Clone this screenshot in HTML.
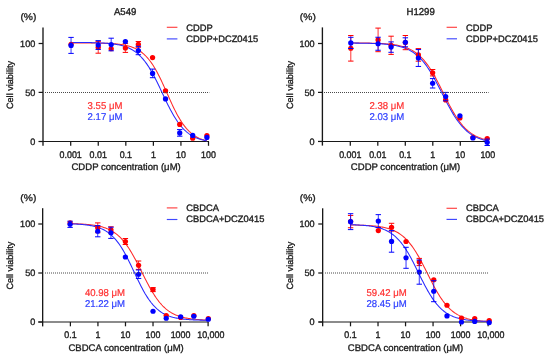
<!DOCTYPE html>
<html><head><meta charset="utf-8"><title>Cell viability</title><style>
html,body{margin:0;padding:0;background:#fff;}
body{width:550px;height:358px;overflow:hidden;font-family:"Liberation Sans", sans-serif;}
svg{display:block;filter:blur(0.3px);}
</style></head><body><svg width="550" height="358" viewBox="0 0 550 358" font-family='"Liberation Sans", sans-serif'><text transform="translate(125.10,15.00) skewX(0.1) scale(1,1.04)" font-size="9.6" text-anchor="middle" fill="#1e1e1e" stroke="#1e1e1e" stroke-width="0.35">A549</text><text transform="translate(20.40,19.60) skewX(0.1) scale(1,0.93)" font-size="10.3" fill="#1e1e1e" stroke="#1e1e1e" stroke-width="0.35">(%)</text><text transform="translate(13.4,85.0) rotate(-90) skewX(0.1)" font-size="9.1" text-anchor="middle" fill="#1e1e1e" stroke="#1e1e1e" stroke-width="0.35">Cell viability</text><path d="M43.0,27.5 V145.7" stroke="#181818" stroke-width="1.35" fill="none"/><path d="M38.8,141.5 H209.0" stroke="#181818" stroke-width="1.05" fill="none"/><path d="M38.6,43.5 H43.0" stroke="#181818" stroke-width="1.25"/><text transform="translate(35.30,46.90) skewX(0.1) scale(1,1.02)" font-size="9.1" text-anchor="end" fill="#1e1e1e" stroke="#1e1e1e" stroke-width="0.35">100</text><path d="M38.6,92.4 H43.0" stroke="#181818" stroke-width="1.25"/><text transform="translate(35.30,95.80) skewX(0.1) scale(1,1.02)" font-size="9.1" text-anchor="end" fill="#1e1e1e" stroke="#1e1e1e" stroke-width="0.35">50</text><path d="M38.6,141.5 H43.0" stroke="#181818" stroke-width="1.25"/><text transform="translate(35.30,144.90) skewX(0.1) scale(1,1.02)" font-size="9.1" text-anchor="end" fill="#1e1e1e" stroke="#1e1e1e" stroke-width="0.35">0</text><path d="M70.70,141.5 V145.8" stroke="#181818" stroke-width="1.25"/><text transform="translate(70.70,158.00) skewX(0.1) scale(1,1.08)" font-size="8.9" text-anchor="middle" fill="#1e1e1e" stroke="#1e1e1e" stroke-width="0.35">0.001</text><path d="M98.26,141.5 V145.8" stroke="#181818" stroke-width="1.25"/><text transform="translate(98.26,158.00) skewX(0.1) scale(1,1.08)" font-size="8.9" text-anchor="middle" fill="#1e1e1e" stroke="#1e1e1e" stroke-width="0.35">0.01</text><path d="M125.82,141.5 V145.8" stroke="#181818" stroke-width="1.25"/><text transform="translate(125.82,158.00) skewX(0.1) scale(1,1.08)" font-size="8.9" text-anchor="middle" fill="#1e1e1e" stroke="#1e1e1e" stroke-width="0.35">0.1</text><path d="M153.38,141.5 V145.8" stroke="#181818" stroke-width="1.25"/><text transform="translate(153.38,158.00) skewX(0.1) scale(1,1.08)" font-size="8.9" text-anchor="middle" fill="#1e1e1e" stroke="#1e1e1e" stroke-width="0.35">1</text><path d="M180.94,141.5 V145.8" stroke="#181818" stroke-width="1.25"/><text transform="translate(180.94,158.00) skewX(0.1) scale(1,1.08)" font-size="8.9" text-anchor="middle" fill="#1e1e1e" stroke="#1e1e1e" stroke-width="0.35">10</text><path d="M208.50,141.5 V145.8" stroke="#181818" stroke-width="1.25"/><text transform="translate(208.50,158.00) skewX(0.1) scale(1,1.08)" font-size="8.9" text-anchor="middle" fill="#1e1e1e" stroke="#1e1e1e" stroke-width="0.35">100</text><text transform="translate(126.10,170.00) skewX(0.1)" font-size="9.55" text-anchor="middle" fill="#1e1e1e" stroke="#1e1e1e" stroke-width="0.35">CDDP concentration (μM)</text><path d="M166.8,27.3 H177.4" stroke="#ff4040" stroke-width="1.15"/><path d="M166.8,38.9 H177.4" stroke="#4048ff" stroke-width="1.15"/><text transform="translate(186.20,31.00) skewX(0.1)" font-size="9.35" fill="#1e1e1e" stroke="#1e1e1e" stroke-width="0.35">CDDP</text><text transform="translate(186.20,42.00) skewX(0.1)" font-size="9.35" fill="#1e1e1e" stroke="#1e1e1e" stroke-width="0.35">CDDP+DCZ0415</text><text transform="translate(87.60,109.00) skewX(0.1) scale(1,1.03)" font-size="9.6" fill="#ff3030" stroke="#ff3030" stroke-width="0.2">3.55 μM</text><text transform="translate(87.60,120.00) skewX(0.1) scale(1,1.03)" font-size="9.6" fill="#3040ff" stroke="#3040ff" stroke-width="0.2">2.17 μM</text><polyline points="71.05,42.89 72.02,42.89 72.99,42.89 73.96,42.90 74.93,42.90 75.90,42.90 76.87,42.90 77.84,42.91 78.81,42.91 79.78,42.91 80.75,42.92 81.72,42.92 82.69,42.93 83.66,42.93 84.63,42.94 85.61,42.94 86.58,42.95 87.55,42.96 88.52,42.96 89.49,42.97 90.46,42.98 91.43,42.99 92.40,43.00 93.37,43.01 94.34,43.03 95.31,43.04 96.28,43.05 97.25,43.07 98.22,43.09 99.19,43.11 100.16,43.13 101.13,43.15 102.10,43.18 103.07,43.21 104.04,43.24 105.01,43.27 105.98,43.30 106.95,43.34 107.92,43.39 108.89,43.43 109.86,43.48 110.83,43.54 111.81,43.60 112.78,43.66 113.75,43.73 114.72,43.81 115.69,43.89 116.66,43.99 117.63,44.08 118.60,44.19 119.57,44.31 120.54,44.44 121.51,44.58 122.48,44.73 123.45,44.89 124.42,45.07 125.39,45.27 126.36,45.48 127.33,45.71 128.30,45.95 129.27,46.22 130.24,46.52 131.21,46.83 132.18,47.17 133.15,47.55 134.12,47.95 135.09,48.38 136.06,48.85 137.03,49.35 138.00,49.90 138.98,50.48 139.95,51.12 140.92,51.80 141.89,52.52 142.86,53.31 143.83,54.14 144.80,55.04 145.77,56.00 146.74,57.02 147.71,58.10 148.68,59.25 149.65,60.47 150.62,61.77 151.59,63.13 152.56,64.57 153.53,66.08 154.50,67.66 155.47,69.31 156.44,71.03 157.41,72.82 158.38,74.67 159.35,76.59 160.32,78.55 161.29,80.57 162.26,82.63 163.23,84.73 164.20,86.87 165.17,89.02 166.14,91.19 167.12,93.37 168.09,95.55 169.06,97.72 170.03,99.87 171.00,102.00 171.97,104.10 172.94,106.16 173.91,108.17 174.88,110.13 175.85,112.04 176.82,113.89 177.79,115.67 178.76,117.38 179.73,119.03 180.70,120.60 181.67,122.11 182.64,123.54 183.61,124.89 184.58,126.18 185.55,127.39 186.52,128.54 187.49,129.62 188.46,130.63 189.43,131.58 190.40,132.47 191.37,133.30 192.34,134.08 193.31,134.80 194.29,135.48 195.26,136.11 196.23,136.69 197.20,137.23 198.17,137.73 199.14,138.20 200.11,138.63 201.08,139.02 202.05,139.39 203.02,139.73 203.99,140.05 204.96,140.34 205.93,140.60 206.90,140.85" stroke="#ff2828" stroke-width="1.05" fill="none"/><polyline points="71.05,42.41 72.02,42.42 72.99,42.42 73.96,42.43 74.93,42.43 75.90,42.44 76.87,42.44 77.84,42.45 78.81,42.46 79.78,42.46 80.75,42.47 81.72,42.48 82.69,42.49 83.66,42.50 84.63,42.51 85.61,42.52 86.58,42.54 87.55,42.55 88.52,42.57 89.49,42.58 90.46,42.60 91.43,42.62 92.40,42.65 93.37,42.67 94.34,42.69 95.31,42.72 96.28,42.75 97.25,42.79 98.22,42.82 99.19,42.86 100.16,42.90 101.13,42.95 102.10,43.00 103.07,43.05 104.04,43.11 105.01,43.17 105.98,43.24 106.95,43.31 107.92,43.39 108.89,43.48 109.86,43.57 110.83,43.67 111.81,43.78 112.78,43.90 113.75,44.03 114.72,44.17 115.69,44.32 116.66,44.48 117.63,44.66 118.60,44.85 119.57,45.06 120.54,45.28 121.51,45.52 122.48,45.78 123.45,46.06 124.42,46.36 125.39,46.69 126.36,47.04 127.33,47.42 128.30,47.83 129.27,48.27 130.24,48.74 131.21,49.25 132.18,49.79 133.15,50.38 134.12,51.00 135.09,51.67 136.06,52.39 137.03,53.15 138.00,53.97 138.98,54.84 139.95,55.76 140.92,56.74 141.89,57.78 142.86,58.88 143.83,60.05 144.80,61.28 145.77,62.57 146.74,63.92 147.71,65.35 148.68,66.83 149.65,68.38 150.62,70.00 151.59,71.67 152.56,73.41 153.53,75.19 154.50,77.04 155.47,78.92 156.44,80.85 157.41,82.82 158.38,84.83 159.35,86.85 160.32,88.90 161.29,90.96 162.26,93.03 163.23,95.09 164.20,97.15 165.17,99.19 166.14,101.21 167.12,103.21 168.09,105.17 169.06,107.09 170.03,108.97 171.00,110.80 171.97,112.57 172.94,114.29 173.91,115.95 174.88,117.55 175.85,119.09 176.82,120.56 177.79,121.97 178.76,123.31 179.73,124.59 180.70,125.80 181.67,126.95 182.64,128.03 183.61,129.06 184.58,130.03 185.55,130.94 186.52,131.80 187.49,132.60 188.46,133.35 189.43,134.06 190.40,134.72 191.37,135.33 192.34,135.91 193.31,136.44 194.29,136.94 195.26,137.41 196.23,137.84 197.20,138.24 198.17,138.61 199.14,138.96 200.11,139.28 201.08,139.58 202.05,139.85 203.02,140.11 203.99,140.35 204.96,140.57 205.93,140.77 206.90,140.96" stroke="#2828ff" stroke-width="1.05" fill="none"/><ellipse cx="71.05" cy="44.20" rx="2.65" ry="2.55" fill="#ff0000"/><path d="M98.22,41.60 V53.20" stroke="#ff0000" stroke-width="0.8" fill="none"/><path d="M95.52,41.60 H100.92 M95.52,53.20 H100.92" stroke="#ff0000" stroke-width="1.0" fill="none"/><ellipse cx="98.22" cy="47.40" rx="2.65" ry="2.55" fill="#ff0000"/><ellipse cx="111.18" cy="48.80" rx="2.65" ry="2.55" fill="#ff0000"/><path d="M125.39,43.60 V52.40" stroke="#ff0000" stroke-width="0.8" fill="none"/><path d="M122.69,43.60 H128.09 M122.69,52.40 H128.09" stroke="#ff0000" stroke-width="1.0" fill="none"/><ellipse cx="125.39" cy="48.00" rx="2.65" ry="2.55" fill="#ff0000"/><path d="M138.35,41.50 V47.30" stroke="#ff0000" stroke-width="0.8" fill="none"/><path d="M135.65,41.50 H141.05 M135.65,47.30 H141.05" stroke="#ff0000" stroke-width="1.0" fill="none"/><ellipse cx="138.35" cy="44.40" rx="2.65" ry="2.55" fill="#ff0000"/><ellipse cx="152.56" cy="57.60" rx="2.65" ry="2.55" fill="#ff0000"/><ellipse cx="165.52" cy="90.80" rx="2.65" ry="2.55" fill="#ff0000"/><ellipse cx="179.73" cy="124.40" rx="2.65" ry="2.55" fill="#ff0000"/><ellipse cx="192.69" cy="138.20" rx="2.65" ry="2.55" fill="#ff0000"/><ellipse cx="206.90" cy="135.50" rx="2.65" ry="2.55" fill="#ff0000"/><path d="M71.05,37.40 V53.40" stroke="#0000ff" stroke-width="0.8" fill="none"/><path d="M68.35,37.40 H73.75 M68.35,53.40 H73.75" stroke="#0000ff" stroke-width="1.0" fill="none"/><ellipse cx="71.05" cy="45.40" rx="2.65" ry="2.55" fill="#0000ff"/><path d="M98.22,40.60 V49.40" stroke="#0000ff" stroke-width="0.8" fill="none"/><path d="M95.52,40.60 H100.92 M95.52,49.40 H100.92" stroke="#0000ff" stroke-width="1.0" fill="none"/><ellipse cx="98.22" cy="45.00" rx="2.65" ry="2.55" fill="#0000ff"/><path d="M111.18,38.20 V50.80" stroke="#0000ff" stroke-width="0.8" fill="none"/><path d="M108.48,38.20 H113.88 M108.48,50.80 H113.88" stroke="#0000ff" stroke-width="1.0" fill="none"/><ellipse cx="111.18" cy="44.50" rx="2.65" ry="2.55" fill="#0000ff"/><ellipse cx="125.39" cy="41.50" rx="2.65" ry="2.55" fill="#0000ff"/><path d="M138.35,46.30 V54.70" stroke="#0000ff" stroke-width="0.8" fill="none"/><path d="M135.65,46.30 H141.05 M135.65,54.70 H141.05" stroke="#0000ff" stroke-width="1.0" fill="none"/><ellipse cx="138.35" cy="50.50" rx="2.65" ry="2.55" fill="#0000ff"/><path d="M152.56,69.10 V77.70" stroke="#0000ff" stroke-width="0.8" fill="none"/><path d="M149.86,69.10 H155.26 M149.86,77.70 H155.26" stroke="#0000ff" stroke-width="1.0" fill="none"/><ellipse cx="152.56" cy="73.40" rx="2.65" ry="2.55" fill="#0000ff"/><ellipse cx="165.52" cy="98.90" rx="2.65" ry="2.55" fill="#0000ff"/><path d="M179.73,129.60 V136.20" stroke="#0000ff" stroke-width="0.8" fill="none"/><path d="M177.03,129.60 H182.43 M177.03,136.20 H182.43" stroke="#0000ff" stroke-width="1.0" fill="none"/><ellipse cx="179.73" cy="132.90" rx="2.65" ry="2.55" fill="#0000ff"/><ellipse cx="192.69" cy="135.40" rx="2.65" ry="2.55" fill="#0000ff"/><ellipse cx="206.90" cy="137.40" rx="2.65" ry="2.55" fill="#0000ff"/><path d="M45,92.5 H209.3" stroke="#4a4a4a" stroke-width="1" stroke-dasharray="1,1" fill="none"/><text transform="translate(420.60,15.00) skewX(0.1) scale(1,1.04)" font-size="9.6" text-anchor="middle" fill="#1e1e1e" stroke="#1e1e1e" stroke-width="0.35">H1299</text><text transform="translate(299.80,19.60) skewX(0.1) scale(1,0.93)" font-size="10.3" fill="#1e1e1e" stroke="#1e1e1e" stroke-width="0.35">(%)</text><text transform="translate(292.8,85.0) rotate(-90) skewX(0.1)" font-size="9.1" text-anchor="middle" fill="#1e1e1e" stroke="#1e1e1e" stroke-width="0.35">Cell viability</text><path d="M322.4,27.4 V145.6" stroke="#181818" stroke-width="1.35" fill="none"/><path d="M318.1,141.45 H488.3" stroke="#181818" stroke-width="1.05" fill="none"/><path d="M318.0,43.5 H322.4" stroke="#181818" stroke-width="1.25"/><text transform="translate(314.60,46.90) skewX(0.1) scale(1,1.02)" font-size="9.1" text-anchor="end" fill="#1e1e1e" stroke="#1e1e1e" stroke-width="0.35">100</text><path d="M318.0,92.4 H322.4" stroke="#181818" stroke-width="1.25"/><text transform="translate(314.60,95.80) skewX(0.1) scale(1,1.02)" font-size="9.1" text-anchor="end" fill="#1e1e1e" stroke="#1e1e1e" stroke-width="0.35">50</text><path d="M318.0,141.45 H322.4" stroke="#181818" stroke-width="1.25"/><text transform="translate(314.60,144.85) skewX(0.1) scale(1,1.02)" font-size="9.1" text-anchor="end" fill="#1e1e1e" stroke="#1e1e1e" stroke-width="0.35">0</text><path d="M350.30,141.45 V145.75" stroke="#181818" stroke-width="1.25"/><text transform="translate(350.30,158.00) skewX(0.1) scale(1,1.08)" font-size="8.9" text-anchor="middle" fill="#1e1e1e" stroke="#1e1e1e" stroke-width="0.35">0.001</text><path d="M377.80,141.45 V145.75" stroke="#181818" stroke-width="1.25"/><text transform="translate(377.80,158.00) skewX(0.1) scale(1,1.08)" font-size="8.9" text-anchor="middle" fill="#1e1e1e" stroke="#1e1e1e" stroke-width="0.35">0.01</text><path d="M405.30,141.45 V145.75" stroke="#181818" stroke-width="1.25"/><text transform="translate(405.30,158.00) skewX(0.1) scale(1,1.08)" font-size="8.9" text-anchor="middle" fill="#1e1e1e" stroke="#1e1e1e" stroke-width="0.35">0.1</text><path d="M432.80,141.45 V145.75" stroke="#181818" stroke-width="1.25"/><text transform="translate(432.80,158.00) skewX(0.1) scale(1,1.08)" font-size="8.9" text-anchor="middle" fill="#1e1e1e" stroke="#1e1e1e" stroke-width="0.35">1</text><path d="M460.30,141.45 V145.75" stroke="#181818" stroke-width="1.25"/><text transform="translate(460.30,158.00) skewX(0.1) scale(1,1.08)" font-size="8.9" text-anchor="middle" fill="#1e1e1e" stroke="#1e1e1e" stroke-width="0.35">10</text><path d="M487.80,141.45 V145.75" stroke="#181818" stroke-width="1.25"/><text transform="translate(487.80,158.00) skewX(0.1) scale(1,1.08)" font-size="8.9" text-anchor="middle" fill="#1e1e1e" stroke="#1e1e1e" stroke-width="0.35">100</text><text transform="translate(405.50,170.00) skewX(0.1)" font-size="9.55" text-anchor="middle" fill="#1e1e1e" stroke="#1e1e1e" stroke-width="0.35">CDDP concentration (μM)</text><path d="M446.6,27.3 H457.0" stroke="#ff4040" stroke-width="1.15"/><path d="M446.6,38.8 H457.0" stroke="#4048ff" stroke-width="1.15"/><text transform="translate(466.00,31.00) skewX(0.1)" font-size="9.35" fill="#1e1e1e" stroke="#1e1e1e" stroke-width="0.35">CDDP</text><text transform="translate(466.00,42.00) skewX(0.1)" font-size="9.35" fill="#1e1e1e" stroke="#1e1e1e" stroke-width="0.35">CDDP+DCZ0415</text><text transform="translate(369.50,109.00) skewX(0.1) scale(1,1.03)" font-size="9.6" fill="#ff3030" stroke="#ff3030" stroke-width="0.2">2.38 μM</text><text transform="translate(369.50,120.00) skewX(0.1) scale(1,1.03)" font-size="9.6" fill="#3040ff" stroke="#3040ff" stroke-width="0.2">2.03 μM</text><polyline points="350.80,42.93 351.77,42.93 352.75,42.94 353.72,42.94 354.70,42.95 355.67,42.96 356.65,42.96 357.62,42.97 358.59,42.98 359.57,42.99 360.54,43.00 361.52,43.01 362.49,43.02 363.47,43.03 364.44,43.04 365.41,43.06 366.39,43.07 367.36,43.09 368.34,43.11 369.31,43.13 370.29,43.15 371.26,43.17 372.23,43.20 373.21,43.22 374.18,43.25 375.16,43.28 376.13,43.31 377.11,43.35 378.08,43.39 379.05,43.43 380.03,43.48 381.00,43.53 381.98,43.58 382.95,43.64 383.93,43.70 384.90,43.77 385.87,43.84 386.85,43.92 387.82,44.00 388.80,44.09 389.77,44.19 390.75,44.30 391.72,44.41 392.69,44.54 393.67,44.67 394.64,44.81 395.62,44.97 396.59,45.14 397.57,45.32 398.54,45.51 399.51,45.72 400.49,45.95 401.46,46.19 402.44,46.45 403.41,46.74 404.39,47.04 405.36,47.37 406.33,47.71 407.31,48.09 408.28,48.49 409.26,48.92 410.23,49.39 411.21,49.88 412.18,50.41 413.15,50.98 414.13,51.59 415.10,52.23 416.08,52.92 417.05,53.65 418.03,54.43 419.00,55.26 419.97,56.14 420.95,57.07 421.92,58.05 422.90,59.09 423.87,60.19 424.85,61.35 425.82,62.56 426.79,63.83 427.77,65.16 428.74,66.55 429.72,68.00 430.69,69.51 431.67,71.07 432.64,72.69 433.61,74.36 434.59,76.08 435.56,77.85 436.54,79.65 437.51,81.50 438.49,83.38 439.46,85.28 440.43,87.21 441.41,89.16 442.38,91.11 443.36,93.08 444.33,95.04 445.31,96.99 446.28,98.93 447.25,100.86 448.23,102.76 449.20,104.63 450.18,106.46 451.15,108.26 452.13,110.01 453.10,111.72 454.07,113.37 455.05,114.98 456.02,116.52 457.00,118.02 457.97,119.45 458.95,120.82 459.92,122.14 460.89,123.40 461.87,124.59 462.84,125.73 463.82,126.81 464.79,127.84 465.77,128.81 466.74,129.72 467.71,130.59 468.69,131.40 469.66,132.17 470.64,132.89 471.61,133.57 472.59,134.20 473.56,134.80 474.53,135.35 475.51,135.88 476.48,136.36 477.46,136.82 478.43,137.24 479.41,137.63 480.38,138.00 481.35,138.35 482.33,138.67 483.30,138.96 484.28,139.24 485.25,139.49 486.23,139.73 487.20,139.95" stroke="#ff2828" stroke-width="1.05" fill="none"/><polyline points="350.80,43.07 351.77,43.08 352.75,43.09 353.72,43.09 354.70,43.10 355.67,43.11 356.65,43.12 357.62,43.13 358.59,43.14 359.57,43.15 360.54,43.16 361.52,43.18 362.49,43.19 363.47,43.21 364.44,43.22 365.41,43.24 366.39,43.26 367.36,43.28 368.34,43.30 369.31,43.33 370.29,43.35 371.26,43.38 372.23,43.41 373.21,43.44 374.18,43.48 375.16,43.52 376.13,43.56 377.11,43.60 378.08,43.65 379.05,43.70 380.03,43.76 381.00,43.82 381.98,43.88 382.95,43.95 383.93,44.03 384.90,44.11 385.87,44.20 386.85,44.29 387.82,44.39 388.80,44.50 389.77,44.62 390.75,44.75 391.72,44.89 392.69,45.03 393.67,45.19 394.64,45.36 395.62,45.54 396.59,45.74 397.57,45.95 398.54,46.18 399.51,46.43 400.49,46.69 401.46,46.97 402.44,47.27 403.41,47.60 404.39,47.95 405.36,48.32 406.33,48.72 407.31,49.15 408.28,49.60 409.26,50.09 410.23,50.62 411.21,51.17 412.18,51.77 413.15,52.40 414.13,53.07 415.10,53.79 416.08,54.55 417.05,55.35 418.03,56.21 419.00,57.11 419.97,58.07 420.95,59.07 421.92,60.14 422.90,61.25 423.87,62.43 424.85,63.65 425.82,64.94 426.79,66.28 427.77,67.68 428.74,69.13 429.72,70.64 430.69,72.20 431.67,73.82 432.64,75.48 433.61,77.18 434.59,78.93 435.56,80.72 436.54,82.54 437.51,84.40 438.49,86.27 439.46,88.17 440.43,90.09 441.41,92.01 442.38,93.94 443.36,95.86 444.33,97.78 445.31,99.68 446.28,101.57 447.25,103.43 448.23,105.27 449.20,107.07 450.18,108.83 451.15,110.55 452.13,112.23 453.10,113.86 454.07,115.45 455.05,116.97 456.02,118.45 457.00,119.87 457.97,121.23 458.95,122.54 459.92,123.79 460.89,124.98 461.87,126.12 462.84,127.20 463.82,128.23 464.79,129.20 465.77,130.13 466.74,131.00 467.71,131.82 468.69,132.60 469.66,133.33 470.64,134.02 471.61,134.67 472.59,135.28 473.56,135.85 474.53,136.38 475.51,136.88 476.48,137.35 477.46,137.79 478.43,138.20 479.41,138.58 480.38,138.94 481.35,139.28 482.33,139.59 483.30,139.88 484.28,140.15 485.25,140.40 486.23,140.63 487.20,140.85" stroke="#2828ff" stroke-width="1.05" fill="none"/><path d="M350.80,35.50 V61.10" stroke="#ff0000" stroke-width="0.8" fill="none"/><path d="M348.10,35.50 H353.50 M348.10,61.10 H353.50" stroke="#ff0000" stroke-width="1.0" fill="none"/><ellipse cx="350.80" cy="48.30" rx="2.65" ry="2.55" fill="#ff0000"/><path d="M378.08,28.10 V51.70" stroke="#ff0000" stroke-width="0.8" fill="none"/><path d="M375.38,28.10 H380.78 M375.38,51.70 H380.78" stroke="#ff0000" stroke-width="1.0" fill="none"/><ellipse cx="378.08" cy="39.90" rx="2.65" ry="2.55" fill="#ff0000"/><path d="M391.10,36.20 V54.40" stroke="#ff0000" stroke-width="0.8" fill="none"/><path d="M388.40,36.20 H393.80 M388.40,54.40 H393.80" stroke="#ff0000" stroke-width="1.0" fill="none"/><ellipse cx="391.10" cy="45.30" rx="2.65" ry="2.55" fill="#ff0000"/><path d="M405.36,35.50 V49.70" stroke="#ff0000" stroke-width="0.8" fill="none"/><path d="M402.66,35.50 H408.06 M402.66,49.70 H408.06" stroke="#ff0000" stroke-width="1.0" fill="none"/><ellipse cx="405.36" cy="42.60" rx="2.65" ry="2.55" fill="#ff0000"/><path d="M418.38,48.60 V61.20" stroke="#ff0000" stroke-width="0.8" fill="none"/><path d="M415.68,48.60 H421.08 M415.68,61.20 H421.08" stroke="#ff0000" stroke-width="1.0" fill="none"/><ellipse cx="418.38" cy="54.90" rx="2.65" ry="2.55" fill="#ff0000"/><path d="M432.64,69.50 V75.90" stroke="#ff0000" stroke-width="0.8" fill="none"/><path d="M429.94,69.50 H435.34 M429.94,75.90 H435.34" stroke="#ff0000" stroke-width="1.0" fill="none"/><ellipse cx="432.64" cy="72.70" rx="2.65" ry="2.55" fill="#ff0000"/><ellipse cx="445.66" cy="99.90" rx="2.65" ry="2.55" fill="#ff0000"/><ellipse cx="459.92" cy="118.00" rx="2.65" ry="2.55" fill="#ff0000"/><ellipse cx="472.94" cy="137.50" rx="2.65" ry="2.55" fill="#ff0000"/><ellipse cx="487.20" cy="138.50" rx="2.65" ry="2.55" fill="#ff0000"/><path d="M350.80,37.30 V48.50" stroke="#0000ff" stroke-width="0.8" fill="none"/><path d="M348.10,37.30 H353.50 M348.10,48.50 H353.50" stroke="#0000ff" stroke-width="1.0" fill="none"/><ellipse cx="350.80" cy="42.90" rx="2.65" ry="2.55" fill="#0000ff"/><path d="M378.08,37.25 V50.25" stroke="#0000ff" stroke-width="0.8" fill="none"/><path d="M375.38,37.25 H380.78 M375.38,50.25 H380.78" stroke="#0000ff" stroke-width="1.0" fill="none"/><ellipse cx="378.08" cy="43.75" rx="2.65" ry="2.55" fill="#0000ff"/><path d="M391.10,41.90 V52.30" stroke="#0000ff" stroke-width="0.8" fill="none"/><path d="M388.40,41.90 H393.80 M388.40,52.30 H393.80" stroke="#0000ff" stroke-width="1.0" fill="none"/><ellipse cx="391.10" cy="47.10" rx="2.65" ry="2.55" fill="#0000ff"/><path d="M405.36,37.80 V46.80" stroke="#0000ff" stroke-width="0.8" fill="none"/><path d="M402.66,37.80 H408.06 M402.66,46.80 H408.06" stroke="#0000ff" stroke-width="1.0" fill="none"/><ellipse cx="405.36" cy="42.30" rx="2.65" ry="2.55" fill="#0000ff"/><path d="M418.38,49.55 V66.45" stroke="#0000ff" stroke-width="0.8" fill="none"/><path d="M415.68,49.55 H421.08 M415.68,66.45 H421.08" stroke="#0000ff" stroke-width="1.0" fill="none"/><ellipse cx="418.38" cy="58.00" rx="2.65" ry="2.55" fill="#0000ff"/><path d="M432.64,78.60 V88.00" stroke="#0000ff" stroke-width="0.8" fill="none"/><path d="M429.94,78.60 H435.34 M429.94,88.00 H435.34" stroke="#0000ff" stroke-width="1.0" fill="none"/><ellipse cx="432.64" cy="83.30" rx="2.65" ry="2.55" fill="#0000ff"/><path d="M445.66,92.40 V100.80" stroke="#0000ff" stroke-width="0.8" fill="none"/><path d="M442.96,92.40 H448.36 M442.96,100.80 H448.36" stroke="#0000ff" stroke-width="1.0" fill="none"/><ellipse cx="445.66" cy="96.60" rx="2.65" ry="2.55" fill="#0000ff"/><ellipse cx="459.92" cy="115.70" rx="2.65" ry="2.55" fill="#0000ff"/><ellipse cx="472.94" cy="137.90" rx="2.65" ry="2.55" fill="#0000ff"/><path d="M487.20,139.10 V145.50" stroke="#0000ff" stroke-width="0.8" fill="none"/><path d="M484.50,139.10 H489.90 M484.50,145.50 H489.90" stroke="#0000ff" stroke-width="1.0" fill="none"/><ellipse cx="487.20" cy="142.30" rx="2.65" ry="2.55" fill="#0000ff"/><path d="M324,92.5 H488.6" stroke="#4a4a4a" stroke-width="1" stroke-dasharray="1,1" fill="none"/><text transform="translate(20.30,201.00) skewX(0.1) scale(1,0.93)" font-size="10.3" fill="#1e1e1e" stroke="#1e1e1e" stroke-width="0.35">(%)</text><text transform="translate(13.4,265.6) rotate(-90) skewX(0.1)" font-size="9.1" text-anchor="middle" fill="#1e1e1e" stroke="#1e1e1e" stroke-width="0.35">Cell viability</text><path d="M42.65,208.2 V326.4" stroke="#181818" stroke-width="1.35" fill="none"/><path d="M38.4,322.0 H208.6" stroke="#181818" stroke-width="1.05" fill="none"/><path d="M38.25,224.0 H42.65" stroke="#181818" stroke-width="1.25"/><text transform="translate(35.30,227.40) skewX(0.1) scale(1,1.02)" font-size="9.1" text-anchor="end" fill="#1e1e1e" stroke="#1e1e1e" stroke-width="0.35">100</text><path d="M38.25,273.0 H42.65" stroke="#181818" stroke-width="1.25"/><text transform="translate(35.30,276.40) skewX(0.1) scale(1,1.02)" font-size="9.1" text-anchor="end" fill="#1e1e1e" stroke="#1e1e1e" stroke-width="0.35">50</text><path d="M38.25,322.0 H42.65" stroke="#181818" stroke-width="1.25"/><text transform="translate(35.30,325.40) skewX(0.1) scale(1,1.02)" font-size="9.1" text-anchor="end" fill="#1e1e1e" stroke="#1e1e1e" stroke-width="0.35">0</text><path d="M70.40,322.0 V326.3" stroke="#181818" stroke-width="1.25"/><text transform="translate(70.40,338.00) skewX(0.1) scale(1,1.08)" font-size="8.9" text-anchor="middle" fill="#1e1e1e" stroke="#1e1e1e" stroke-width="0.35">0.1</text><path d="M97.94,322.0 V326.3" stroke="#181818" stroke-width="1.25"/><text transform="translate(97.94,338.00) skewX(0.1) scale(1,1.08)" font-size="8.9" text-anchor="middle" fill="#1e1e1e" stroke="#1e1e1e" stroke-width="0.35">1</text><path d="M125.48,322.0 V326.3" stroke="#181818" stroke-width="1.25"/><text transform="translate(125.48,338.00) skewX(0.1) scale(1,1.08)" font-size="8.9" text-anchor="middle" fill="#1e1e1e" stroke="#1e1e1e" stroke-width="0.35">10</text><path d="M153.02,322.0 V326.3" stroke="#181818" stroke-width="1.25"/><text transform="translate(153.02,338.00) skewX(0.1) scale(1,1.08)" font-size="8.9" text-anchor="middle" fill="#1e1e1e" stroke="#1e1e1e" stroke-width="0.35">100</text><path d="M180.56,322.0 V326.3" stroke="#181818" stroke-width="1.25"/><text transform="translate(180.56,338.00) skewX(0.1) scale(1,1.08)" font-size="8.9" text-anchor="middle" fill="#1e1e1e" stroke="#1e1e1e" stroke-width="0.35">1000</text><path d="M208.10,322.0 V326.3" stroke="#181818" stroke-width="1.25"/><text transform="translate(210.80,338.00) skewX(0.1) scale(1,1.08)" font-size="8.9" text-anchor="middle" fill="#1e1e1e" stroke="#1e1e1e" stroke-width="0.35">10,000</text><text transform="translate(126.10,350.60) skewX(0.1)" font-size="9.55" text-anchor="middle" fill="#1e1e1e" stroke="#1e1e1e" stroke-width="0.35">CBDCA concentration (μM)</text><path d="M166.8,207.9 H177.4" stroke="#ff4040" stroke-width="1.15"/><path d="M166.8,219.5 H177.4" stroke="#4048ff" stroke-width="1.15"/><text transform="translate(186.20,211.00) skewX(0.1)" font-size="9.35" fill="#1e1e1e" stroke="#1e1e1e" stroke-width="0.35">CBDCA</text><text transform="translate(186.20,222.00) skewX(0.1)" font-size="9.35" fill="#1e1e1e" stroke="#1e1e1e" stroke-width="0.35">CBDCA+DCZ0415</text><text transform="translate(84.90,296.00) skewX(0.1) scale(1,1.03)" font-size="9.6" fill="#ff3030" stroke="#ff3030" stroke-width="0.2">40.98 μM</text><text transform="translate(84.90,307.00) skewX(0.1) scale(1,1.03)" font-size="9.6" fill="#3040ff" stroke="#3040ff" stroke-width="0.2">21.22 μM</text><polyline points="70.10,223.64 71.09,223.66 72.07,223.69 73.06,223.71 74.05,223.74 75.04,223.77 76.02,223.81 77.01,223.84 78.00,223.88 78.98,223.92 79.97,223.97 80.96,224.02 81.95,224.07 82.93,224.13 83.92,224.20 84.91,224.27 85.89,224.34 86.88,224.42 87.87,224.51 88.86,224.60 89.84,224.71 90.83,224.82 91.82,224.94 92.80,225.07 93.79,225.21 94.78,225.36 95.77,225.53 96.75,225.70 97.74,225.90 98.73,226.10 99.71,226.33 100.70,226.57 101.69,226.83 102.68,227.11 103.66,227.41 104.65,227.74 105.64,228.09 106.62,228.47 107.61,228.88 108.60,229.32 109.59,229.79 110.57,230.29 111.56,230.83 112.55,231.41 113.53,232.03 114.52,232.70 115.51,233.40 116.50,234.16 117.48,234.97 118.47,235.82 119.46,236.73 120.44,237.70 121.43,238.72 122.42,239.80 123.41,240.94 124.39,242.14 125.38,243.40 126.37,244.72 127.35,246.11 128.34,247.56 129.33,249.06 130.32,250.63 131.30,252.25 132.29,253.93 133.28,255.66 134.26,257.43 135.25,259.25 136.24,261.11 137.23,263.00 138.21,264.92 139.20,266.87 140.19,268.83 141.17,270.80 142.16,272.77 143.15,274.75 144.14,276.71 145.12,278.66 146.11,280.58 147.10,282.48 148.08,284.34 149.07,286.17 150.06,287.95 151.05,289.69 152.03,291.37 153.02,293.00 154.01,294.58 154.99,296.09 155.98,297.55 156.97,298.94 157.96,300.28 158.94,301.55 159.93,302.76 160.92,303.91 161.90,305.00 162.89,306.03 163.88,307.00 164.87,307.92 165.85,308.78 166.84,309.60 167.83,310.36 168.81,311.07 169.80,311.74 170.79,312.37 171.78,312.96 172.76,313.50 173.75,314.01 174.74,314.49 175.72,314.93 176.71,315.34 177.70,315.73 178.69,316.08 179.67,316.41 180.66,316.72 181.65,317.00 182.63,317.27 183.62,317.51 184.61,317.74 185.60,317.95 186.58,318.14 187.57,318.32 188.56,318.49 189.54,318.64 190.53,318.79 191.52,318.92 192.51,319.04 193.49,319.15 194.48,319.26 195.47,319.35 196.45,319.44 197.44,319.52 198.43,319.60 199.42,319.67 200.40,319.73 201.39,319.79 202.38,319.85 203.36,319.90 204.35,319.94 205.34,319.99 206.33,320.03 207.31,320.06 208.30,320.10" stroke="#ff2828" stroke-width="1.05" fill="none"/><polyline points="70.10,223.83 71.09,223.86 72.07,223.90 73.06,223.94 74.05,223.98 75.04,224.02 76.02,224.07 77.01,224.13 78.00,224.19 78.98,224.25 79.97,224.32 80.96,224.39 81.95,224.48 82.93,224.57 83.92,224.66 84.91,224.77 85.89,224.88 86.88,225.01 87.87,225.15 88.86,225.29 89.84,225.45 90.83,225.63 91.82,225.82 92.80,226.02 93.79,226.25 94.78,226.49 95.77,226.75 96.75,227.04 97.74,227.35 98.73,227.68 99.71,228.04 100.70,228.43 101.69,228.86 102.68,229.31 103.66,229.80 104.65,230.33 105.64,230.91 106.62,231.52 107.61,232.18 108.60,232.89 109.59,233.65 110.57,234.46 111.56,235.33 112.55,236.26 113.53,237.25 114.52,238.30 115.51,239.42 116.50,240.60 117.48,241.85 118.47,243.18 119.46,244.57 120.44,246.03 121.43,247.55 122.42,249.15 123.41,250.81 124.39,252.54 125.38,254.33 126.37,256.17 127.35,258.07 128.34,260.01 129.33,262.00 130.32,264.02 131.30,266.07 132.29,268.14 133.28,270.22 134.26,272.31 135.25,274.40 136.24,276.48 137.23,278.55 138.21,280.59 139.20,282.60 140.19,284.57 141.17,286.50 142.16,288.37 143.15,290.20 144.14,291.96 145.12,293.67 146.11,295.31 147.10,296.88 148.08,298.38 149.07,299.82 150.06,301.18 151.05,302.48 152.03,303.70 153.02,304.86 154.01,305.96 154.99,306.99 155.98,307.95 156.97,308.86 157.96,309.71 158.94,310.50 159.93,311.25 160.92,311.94 161.90,312.58 162.89,313.18 163.88,313.74 164.87,314.25 165.85,314.73 166.84,315.17 167.83,315.59 168.81,315.97 169.80,316.32 170.79,316.64 171.78,316.94 172.76,317.22 173.75,317.47 174.74,317.71 175.72,317.93 176.71,318.13 177.70,318.31 178.69,318.48 179.67,318.64 180.66,318.78 181.65,318.91 182.63,319.03 183.62,319.14 184.61,319.25 185.60,319.34 186.58,319.43 187.57,319.51 188.56,319.58 189.54,319.65 190.53,319.71 191.52,319.77 192.51,319.82 193.49,319.87 194.48,319.91 195.47,319.95 196.45,319.99 197.44,320.02 198.43,320.05 199.42,320.08 200.40,320.11 201.39,320.13 202.38,320.15 203.36,320.17 204.35,320.19 205.34,320.21 206.33,320.23 207.31,320.24 208.30,320.25" stroke="#2828ff" stroke-width="1.05" fill="none"/><ellipse cx="70.10" cy="222.90" rx="2.65" ry="2.55" fill="#ff0000"/><path d="M97.74,222.90 V232.70" stroke="#ff0000" stroke-width="0.8" fill="none"/><path d="M95.04,222.90 H100.44 M95.04,232.70 H100.44" stroke="#ff0000" stroke-width="1.0" fill="none"/><ellipse cx="97.74" cy="227.80" rx="2.65" ry="2.55" fill="#ff0000"/><path d="M110.93,226.80 V232.80" stroke="#ff0000" stroke-width="0.8" fill="none"/><path d="M108.23,226.80 H113.63 M108.23,232.80 H113.63" stroke="#ff0000" stroke-width="1.0" fill="none"/><ellipse cx="110.93" cy="229.80" rx="2.65" ry="2.55" fill="#ff0000"/><path d="M125.38,238.50 V244.50" stroke="#ff0000" stroke-width="0.8" fill="none"/><path d="M122.68,238.50 H128.08 M122.68,244.50 H128.08" stroke="#ff0000" stroke-width="1.0" fill="none"/><ellipse cx="125.38" cy="241.50" rx="2.65" ry="2.55" fill="#ff0000"/><path d="M138.57,261.00 V269.40" stroke="#ff0000" stroke-width="0.8" fill="none"/><path d="M135.87,261.00 H141.27 M135.87,269.40 H141.27" stroke="#ff0000" stroke-width="1.0" fill="none"/><ellipse cx="138.57" cy="265.20" rx="2.65" ry="2.55" fill="#ff0000"/><path d="M153.02,287.60 V291.60" stroke="#ff0000" stroke-width="0.8" fill="none"/><path d="M150.32,287.60 H155.72 M150.32,291.60 H155.72" stroke="#ff0000" stroke-width="1.0" fill="none"/><ellipse cx="153.02" cy="289.60" rx="2.65" ry="2.55" fill="#ff0000"/><ellipse cx="166.21" cy="315.60" rx="2.65" ry="2.55" fill="#ff0000"/><ellipse cx="180.66" cy="317.50" rx="2.65" ry="2.55" fill="#ff0000"/><ellipse cx="193.85" cy="315.50" rx="2.65" ry="2.55" fill="#ff0000"/><ellipse cx="208.30" cy="318.50" rx="2.65" ry="2.55" fill="#ff0000"/><path d="M70.10,221.20 V227.40" stroke="#0000ff" stroke-width="0.8" fill="none"/><path d="M67.40,221.20 H72.80 M67.40,227.40 H72.80" stroke="#0000ff" stroke-width="1.0" fill="none"/><ellipse cx="70.10" cy="224.30" rx="2.65" ry="2.55" fill="#0000ff"/><path d="M97.74,225.60 V236.80" stroke="#0000ff" stroke-width="0.8" fill="none"/><path d="M95.04,225.60 H100.44 M95.04,236.80 H100.44" stroke="#0000ff" stroke-width="1.0" fill="none"/><ellipse cx="97.74" cy="231.20" rx="2.65" ry="2.55" fill="#0000ff"/><path d="M110.93,227.20 V238.40" stroke="#0000ff" stroke-width="0.8" fill="none"/><path d="M108.23,227.20 H113.63 M108.23,238.40 H113.63" stroke="#0000ff" stroke-width="1.0" fill="none"/><ellipse cx="110.93" cy="232.80" rx="2.65" ry="2.55" fill="#0000ff"/><ellipse cx="125.38" cy="257.00" rx="2.65" ry="2.55" fill="#0000ff"/><path d="M138.57,269.95 V278.45" stroke="#0000ff" stroke-width="0.8" fill="none"/><path d="M135.87,269.95 H141.27 M135.87,278.45 H141.27" stroke="#0000ff" stroke-width="1.0" fill="none"/><ellipse cx="138.57" cy="274.20" rx="2.65" ry="2.55" fill="#0000ff"/><ellipse cx="153.02" cy="311.20" rx="2.65" ry="2.55" fill="#0000ff"/><ellipse cx="166.21" cy="318.30" rx="2.65" ry="2.55" fill="#0000ff"/><ellipse cx="180.66" cy="316.70" rx="2.65" ry="2.55" fill="#0000ff"/><ellipse cx="193.85" cy="316.30" rx="2.65" ry="2.55" fill="#0000ff"/><ellipse cx="208.30" cy="319.30" rx="2.65" ry="2.55" fill="#0000ff"/><path d="M45,273.0 H208.9" stroke="#4a4a4a" stroke-width="1" stroke-dasharray="1,1" fill="none"/><text transform="translate(299.70,201.00) skewX(0.1) scale(1,0.93)" font-size="10.3" fill="#1e1e1e" stroke="#1e1e1e" stroke-width="0.35">(%)</text><text transform="translate(292.8,265.6) rotate(-90) skewX(0.1)" font-size="9.1" text-anchor="middle" fill="#1e1e1e" stroke="#1e1e1e" stroke-width="0.35">Cell viability</text><path d="M322.65,208.3 V326.3" stroke="#181818" stroke-width="1.35" fill="none"/><path d="M318.5,322.0 H488.6" stroke="#181818" stroke-width="1.05" fill="none"/><path d="M318.25,224.0 H322.65" stroke="#181818" stroke-width="1.25"/><text transform="translate(314.60,227.40) skewX(0.1) scale(1,1.02)" font-size="9.1" text-anchor="end" fill="#1e1e1e" stroke="#1e1e1e" stroke-width="0.35">100</text><path d="M318.25,273.0 H322.65" stroke="#181818" stroke-width="1.25"/><text transform="translate(314.60,276.40) skewX(0.1) scale(1,1.02)" font-size="9.1" text-anchor="end" fill="#1e1e1e" stroke="#1e1e1e" stroke-width="0.35">50</text><path d="M318.25,322.0 H322.65" stroke="#181818" stroke-width="1.25"/><text transform="translate(314.60,325.40) skewX(0.1) scale(1,1.02)" font-size="9.1" text-anchor="end" fill="#1e1e1e" stroke="#1e1e1e" stroke-width="0.35">0</text><path d="M350.50,322.0 V326.3" stroke="#181818" stroke-width="1.25"/><text transform="translate(350.50,338.00) skewX(0.1) scale(1,1.08)" font-size="8.9" text-anchor="middle" fill="#1e1e1e" stroke="#1e1e1e" stroke-width="0.35">0.1</text><path d="M378.02,322.0 V326.3" stroke="#181818" stroke-width="1.25"/><text transform="translate(378.02,338.00) skewX(0.1) scale(1,1.08)" font-size="8.9" text-anchor="middle" fill="#1e1e1e" stroke="#1e1e1e" stroke-width="0.35">1</text><path d="M405.54,322.0 V326.3" stroke="#181818" stroke-width="1.25"/><text transform="translate(405.54,338.00) skewX(0.1) scale(1,1.08)" font-size="8.9" text-anchor="middle" fill="#1e1e1e" stroke="#1e1e1e" stroke-width="0.35">10</text><path d="M433.06,322.0 V326.3" stroke="#181818" stroke-width="1.25"/><text transform="translate(433.06,338.00) skewX(0.1) scale(1,1.08)" font-size="8.9" text-anchor="middle" fill="#1e1e1e" stroke="#1e1e1e" stroke-width="0.35">100</text><path d="M460.58,322.0 V326.3" stroke="#181818" stroke-width="1.25"/><text transform="translate(460.58,338.00) skewX(0.1) scale(1,1.08)" font-size="8.9" text-anchor="middle" fill="#1e1e1e" stroke="#1e1e1e" stroke-width="0.35">1000</text><path d="M488.10,322.0 V326.3" stroke="#181818" stroke-width="1.25"/><text transform="translate(490.80,338.00) skewX(0.1) scale(1,1.08)" font-size="8.9" text-anchor="middle" fill="#1e1e1e" stroke="#1e1e1e" stroke-width="0.35">10,000</text><text transform="translate(405.50,350.60) skewX(0.1)" font-size="9.55" text-anchor="middle" fill="#1e1e1e" stroke="#1e1e1e" stroke-width="0.35">CBDCA concentration (μM)</text><path d="M446.5,208.3 H457.0" stroke="#ff4040" stroke-width="1.15"/><path d="M446.5,219.4 H457.0" stroke="#4048ff" stroke-width="1.15"/><text transform="translate(465.90,211.00) skewX(0.1)" font-size="9.35" fill="#1e1e1e" stroke="#1e1e1e" stroke-width="0.35">CBDCA</text><text transform="translate(465.90,222.00) skewX(0.1)" font-size="9.35" fill="#1e1e1e" stroke="#1e1e1e" stroke-width="0.35">CBDCA+DCZ0415</text><text transform="translate(366.50,296.00) skewX(0.1) scale(1,1.03)" font-size="9.6" fill="#ff3030" stroke="#ff3030" stroke-width="0.2">59.42 μM</text><text transform="translate(366.50,307.00) skewX(0.1) scale(1,1.03)" font-size="9.6" fill="#3040ff" stroke="#3040ff" stroke-width="0.2">28.45 μM</text><polyline points="350.60,224.97 351.59,224.98 352.58,225.00 353.57,225.02 354.56,225.04 355.55,225.06 356.54,225.08 357.53,225.10 358.52,225.13 359.51,225.16 360.50,225.19 361.49,225.22 362.48,225.26 363.47,225.30 364.46,225.34 365.45,225.39 366.44,225.44 367.43,225.49 368.42,225.55 369.41,225.61 370.40,225.68 371.39,225.76 372.38,225.84 373.37,225.92 374.36,226.02 375.35,226.12 376.34,226.23 377.33,226.35 378.32,226.48 379.31,226.62 380.30,226.77 381.29,226.94 382.28,227.12 383.27,227.31 384.26,227.51 385.25,227.74 386.24,227.98 387.23,228.24 388.22,228.52 389.21,228.83 390.20,229.15 391.19,229.50 392.18,229.88 393.17,230.29 394.16,230.73 395.15,231.20 396.14,231.70 397.13,232.24 398.12,232.82 399.11,233.45 400.10,234.11 401.09,234.82 402.08,235.57 403.07,236.38 404.06,237.24 405.05,238.15 406.04,239.11 407.03,240.14 408.02,241.22 409.01,242.36 410.00,243.56 410.99,244.83 411.98,246.15 412.97,247.54 413.96,248.99 414.95,250.50 415.94,252.07 416.93,253.70 417.92,255.38 418.91,257.11 419.90,258.89 420.89,260.72 421.88,262.58 422.87,264.48 423.86,266.41 424.85,268.36 425.84,270.33 426.83,272.30 427.82,274.29 428.81,276.26 429.80,278.23 430.79,280.19 431.78,282.12 432.77,284.02 433.76,285.89 434.75,287.73 435.74,289.52 436.73,291.26 437.72,292.95 438.71,294.58 439.70,296.16 440.69,297.69 441.68,299.15 442.67,300.55 443.66,301.88 444.65,303.16 445.64,304.37 446.63,305.52 447.62,306.62 448.61,307.65 449.60,308.63 450.59,309.55 451.58,310.41 452.57,311.23 453.56,311.99 454.55,312.71 455.54,313.38 456.53,314.01 457.52,314.59 458.51,315.14 459.50,315.65 460.49,316.13 461.48,316.57 462.47,316.99 463.46,317.37 464.45,317.73 465.44,318.06 466.43,318.36 467.42,318.65 468.41,318.91 469.40,319.16 470.39,319.39 471.38,319.60 472.37,319.79 473.36,319.97 474.35,320.14 475.34,320.29 476.33,320.43 477.32,320.57 478.31,320.69 479.30,320.80 480.29,320.90 481.28,321.00 482.27,321.09 483.26,321.17 484.25,321.25 485.24,321.32 486.23,321.38 487.22,321.44 488.21,321.49 489.20,321.54" stroke="#ff2828" stroke-width="1.05" fill="none"/><polyline points="350.60,224.72 351.59,224.75 352.58,224.78 353.57,224.82 354.56,224.85 355.55,224.89 356.54,224.93 357.53,224.98 358.52,225.03 359.51,225.09 360.50,225.15 361.49,225.21 362.48,225.28 363.47,225.36 364.46,225.44 365.45,225.53 366.44,225.62 367.43,225.73 368.42,225.84 369.41,225.97 370.40,226.10 371.39,226.24 372.38,226.40 373.37,226.57 374.36,226.75 375.35,226.95 376.34,227.17 377.33,227.40 378.32,227.65 379.31,227.92 380.30,228.21 381.29,228.53 382.28,228.87 383.27,229.23 384.26,229.63 385.25,230.05 386.24,230.51 387.23,231.00 388.22,231.53 389.21,232.09 390.20,232.70 391.19,233.35 392.18,234.05 393.17,234.79 394.16,235.58 395.15,236.43 396.14,237.33 397.13,238.28 398.12,239.30 399.11,240.37 400.10,241.50 401.09,242.70 402.08,243.96 403.07,245.28 404.06,246.67 405.05,248.12 406.04,249.64 407.03,251.21 408.02,252.85 409.01,254.54 410.00,256.29 410.99,258.08 411.98,259.92 412.97,261.81 413.96,263.73 414.95,265.68 415.94,267.65 416.93,269.65 417.92,271.65 418.91,273.66 419.90,275.67 420.89,277.67 421.88,279.65 422.87,281.61 423.86,283.54 424.85,285.44 425.84,287.30 426.83,289.11 427.82,290.88 428.81,292.59 429.80,294.25 430.79,295.84 431.78,297.38 432.77,298.85 433.76,300.27 434.75,301.61 435.74,302.90 436.73,304.12 437.72,305.27 438.71,306.37 439.70,307.40 440.69,308.38 441.68,309.30 442.67,310.17 443.66,310.98 444.65,311.74 445.64,312.45 446.63,313.12 447.62,313.74 448.61,314.32 449.60,314.86 450.59,315.37 451.58,315.84 452.57,316.27 453.56,316.68 454.55,317.06 455.54,317.41 456.53,317.73 457.52,318.03 458.51,318.31 459.50,318.57 460.49,318.80 461.48,319.02 462.47,319.23 463.46,319.42 464.45,319.59 465.44,319.75 466.43,319.90 467.42,320.04 468.41,320.17 469.40,320.28 470.39,320.39 471.38,320.49 472.37,320.58 473.36,320.67 474.35,320.75 475.34,320.82 476.33,320.88 477.32,320.95 478.31,321.00 479.30,321.05 480.29,321.10 481.28,321.15 482.27,321.19 483.26,321.22 484.25,321.26 485.24,321.29 486.23,321.32 487.22,321.35 488.21,321.37 489.20,321.40" stroke="#2828ff" stroke-width="1.05" fill="none"/><path d="M350.60,215.45 V227.75" stroke="#ff0000" stroke-width="0.8" fill="none"/><path d="M347.90,215.45 H353.30 M347.90,227.75 H353.30" stroke="#ff0000" stroke-width="1.0" fill="none"/><ellipse cx="350.60" cy="221.60" rx="2.65" ry="2.55" fill="#ff0000"/><ellipse cx="378.32" cy="230.60" rx="2.65" ry="2.55" fill="#ff0000"/><path d="M391.55,223.30 V231.10" stroke="#ff0000" stroke-width="0.8" fill="none"/><path d="M388.85,223.30 H394.25 M388.85,231.10 H394.25" stroke="#ff0000" stroke-width="1.0" fill="none"/><ellipse cx="391.55" cy="227.20" rx="2.65" ry="2.55" fill="#ff0000"/><ellipse cx="406.04" cy="241.50" rx="2.65" ry="2.55" fill="#ff0000"/><path d="M419.27,258.40 V265.60" stroke="#ff0000" stroke-width="0.8" fill="none"/><path d="M416.57,258.40 H421.97 M416.57,265.60 H421.97" stroke="#ff0000" stroke-width="1.0" fill="none"/><ellipse cx="419.27" cy="262.00" rx="2.65" ry="2.55" fill="#ff0000"/><ellipse cx="433.76" cy="279.80" rx="2.65" ry="2.55" fill="#ff0000"/><ellipse cx="446.99" cy="305.20" rx="2.65" ry="2.55" fill="#ff0000"/><ellipse cx="461.48" cy="318.10" rx="2.65" ry="2.55" fill="#ff0000"/><ellipse cx="474.71" cy="318.50" rx="2.65" ry="2.55" fill="#ff0000"/><ellipse cx="489.20" cy="320.60" rx="2.65" ry="2.55" fill="#ff0000"/><path d="M350.60,213.70 V229.60" stroke="#0000ff" stroke-width="0.8" fill="none"/><path d="M347.90,213.70 H353.30 M347.90,229.60 H353.30" stroke="#0000ff" stroke-width="1.0" fill="none"/><ellipse cx="350.60" cy="221.65" rx="2.65" ry="2.55" fill="#0000ff"/><path d="M378.32,214.65 V227.55" stroke="#0000ff" stroke-width="0.8" fill="none"/><path d="M375.62,214.65 H381.02 M375.62,227.55 H381.02" stroke="#0000ff" stroke-width="1.0" fill="none"/><ellipse cx="378.32" cy="221.10" rx="2.65" ry="2.55" fill="#0000ff"/><path d="M391.55,230.60 V252.20" stroke="#0000ff" stroke-width="0.8" fill="none"/><path d="M388.85,230.60 H394.25 M388.85,252.20 H394.25" stroke="#0000ff" stroke-width="1.0" fill="none"/><ellipse cx="391.55" cy="241.40" rx="2.65" ry="2.55" fill="#0000ff"/><path d="M406.04,247.30 V268.30" stroke="#0000ff" stroke-width="0.8" fill="none"/><path d="M403.34,247.30 H408.74 M403.34,268.30 H408.74" stroke="#0000ff" stroke-width="1.0" fill="none"/><ellipse cx="406.04" cy="257.80" rx="2.65" ry="2.55" fill="#0000ff"/><path d="M419.27,260.00 V284.20" stroke="#0000ff" stroke-width="0.8" fill="none"/><path d="M416.57,260.00 H421.97 M416.57,284.20 H421.97" stroke="#0000ff" stroke-width="1.0" fill="none"/><ellipse cx="419.27" cy="272.10" rx="2.65" ry="2.55" fill="#0000ff"/><path d="M433.76,280.70 V301.70" stroke="#0000ff" stroke-width="0.8" fill="none"/><path d="M431.06,280.70 H436.46 M431.06,301.70 H436.46" stroke="#0000ff" stroke-width="1.0" fill="none"/><ellipse cx="433.76" cy="291.20" rx="2.65" ry="2.55" fill="#0000ff"/><ellipse cx="446.99" cy="315.90" rx="2.65" ry="2.55" fill="#0000ff"/><ellipse cx="461.48" cy="322.00" rx="2.65" ry="2.55" fill="#0000ff"/><ellipse cx="474.71" cy="321.40" rx="2.65" ry="2.55" fill="#0000ff"/><ellipse cx="489.20" cy="322.60" rx="2.65" ry="2.55" fill="#0000ff"/><path d="M325,273.0 H488.90000000000003" stroke="#4a4a4a" stroke-width="1" stroke-dasharray="1,1" fill="none"/></svg></body></html>
